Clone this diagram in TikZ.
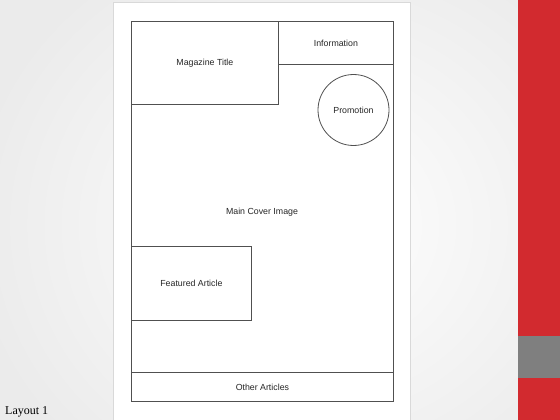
\documentclass[tikz,border=0pt]{standalone}
\usepackage{fontspec}
\setmainfont{Liberation Sans}
\newfontfamily\serifface{Liberation Serif}
\definecolor{slidered}{HTML}{D22A2F}
\definecolor{slidegray}{HTML}{7F7F7F}
\definecolor{linegray}{HTML}{505050}
\begin{document}
\begin{tikzpicture}[x=1pt,y=-1pt,
  box/.style={draw=linegray, line width=0.8pt, inner sep=0pt, anchor=north west, font=\fontsize{8.8}{10}\selectfont, text=black!85},
  lbl/.style={inner sep=0pt, font=\fontsize{8.8}{10}\selectfont, text=black!85}]
\useasboundingbox (0,0) rectangle (560,420);
\begin{scope}
\clip (0,0) rectangle (560,420);
\shade[inner color=white, outer color=gray!16] (-40,-90) rectangle (660,540);
\end{scope}
\fill[slidered] (518,0) rectangle (560,420);
\fill[slidegray] (518,336) rectangle (560,378);
\draw[gray!30, fill=white] (113,2) rectangle (410,421);
% layout
\node[box, minimum width=262pt, minimum height=380pt] (outer) at (131,21) {};
\node[box, minimum width=147pt, minimum height=83pt] (title) at (131,21) {Magazine Title};
\node[box, minimum width=115pt, minimum height=43pt] (info) at (278,21) {Information};
\node[draw=linegray, line width=0.8pt, circle, minimum size=71pt, inner sep=0pt, font=\fontsize{8.8}{10}\selectfont, text=black!85] (promo) at (353.5,110) {Promotion};
\node[lbl] (main) at (262,212) {Main Cover Image};
\node[box, minimum width=120pt, minimum height=74pt] (feat) at (131,246) {Featured Article};
\node[box, minimum width=262pt, minimum height=29pt] (other) at (131,372) {Other Articles};
\node[anchor=base west, inner sep=0pt, font=\serifface\fontsize{12}{14}\selectfont] (lay) at (5,414) {Layout 1};
\end{tikzpicture}
\end{document}
